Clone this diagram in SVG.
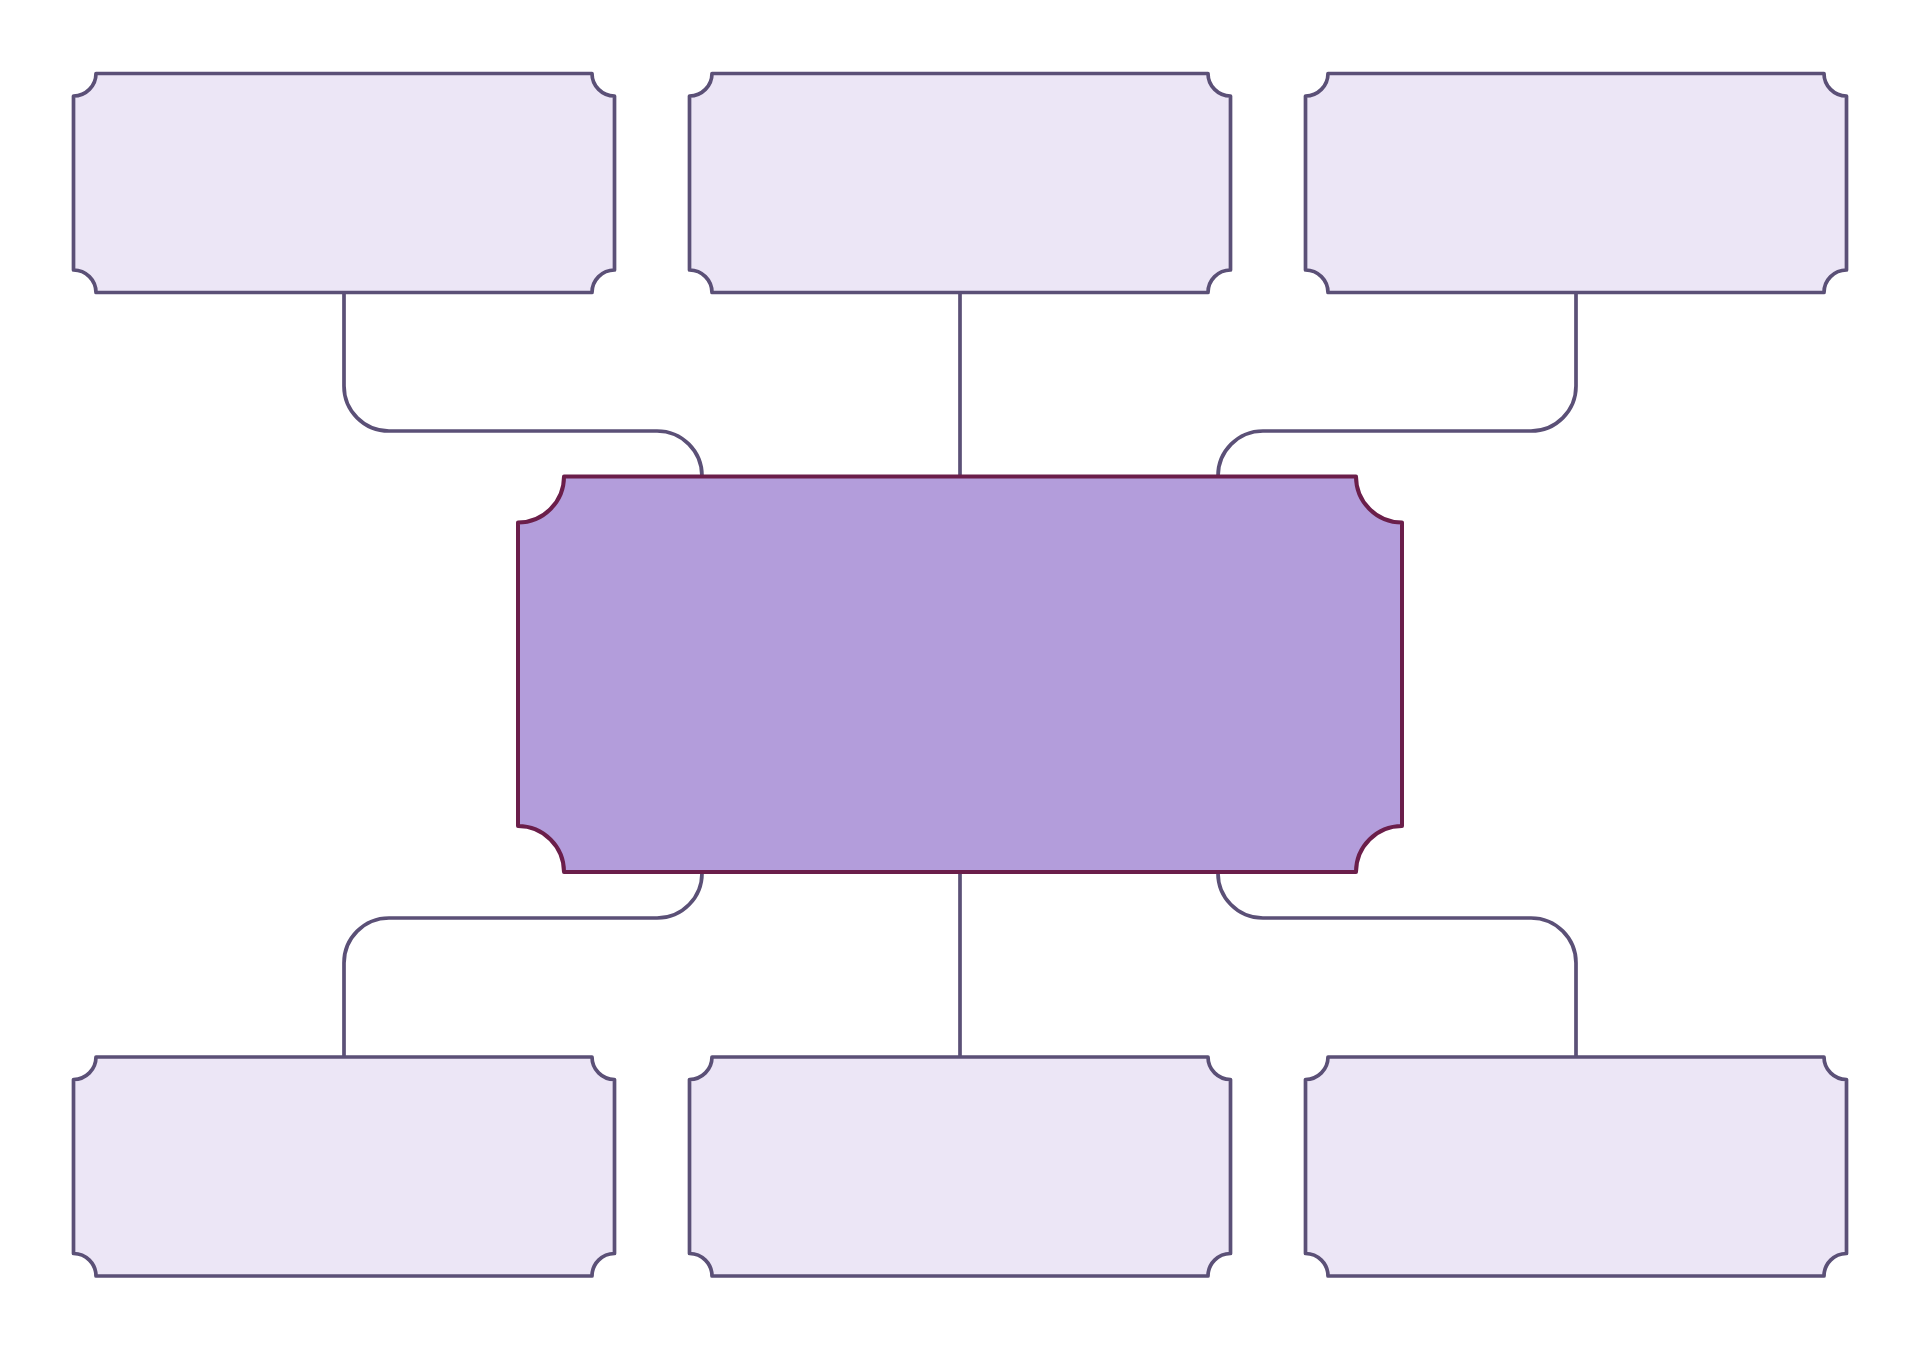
<svg xmlns="http://www.w3.org/2000/svg" width="1920" height="1350" viewBox="0 0 1920 1350">
<style>
.leaf{fill:#ECE6F6;stroke:#5B5077;stroke-width:3.7;stroke-linejoin:round}
.hub{fill:#B39DDB;stroke:#6B1E4A;stroke-width:4;stroke-linejoin:round}
.edge{fill:none;stroke:#5B5077;stroke-width:3.7}
</style>
<rect width="1920" height="1350" fill="#FFFFFF"/>
<g id="connectors">
<path class="edge" d="M344,292.5 V386 A45,45 0 0 0 389,431 H657 A45,45 0 0 1 702,476"/>
<path class="edge" d="M960,292.5 V476.5"/>
<path class="edge" d="M1576,292.5 V386 A45,45 0 0 1 1531,431 H1263 A45,45 0 0 0 1218,476"/>
<path class="edge" d="M702,872 A45,45 0 0 1 657,918 H389 A45,45 0 0 0 344,963 V1057"/>
<path class="edge" d="M960,872 V1057"/>
<path class="edge" d="M1218,872 A45,45 0 0 0 1263,918 H1531 A45,45 0 0 1 1576,963 V1057"/>
</g>
<g id="node-center">
<path class="hub" d="M564,476.5 H1356 A46,46 0 0 0 1402,522.5 V826 A46,46 0 0 0 1356,872 H564 A46,46 0 0 0 518,826 V522.5 A46,46 0 0 0 564,476.5 Z"/>
</g>
<g id="node-top-left">
<path class="leaf" d="M96,73.5 H592 A22.5,22.5 0 0 0 614.5,96 V270 A22.5,22.5 0 0 0 592,292.5 H96 A22.5,22.5 0 0 0 73.5,270 V96 A22.5,22.5 0 0 0 96,73.5 Z"/>
</g>
<g id="node-top-middle">
<path class="leaf" d="M712,73.5 H1208 A22.5,22.5 0 0 0 1230.5,96 V270 A22.5,22.5 0 0 0 1208,292.5 H712 A22.5,22.5 0 0 0 689.5,270 V96 A22.5,22.5 0 0 0 712,73.5 Z"/>
</g>
<g id="node-top-right">
<path class="leaf" d="M1328,73.5 H1824 A22.5,22.5 0 0 0 1846.5,96 V270 A22.5,22.5 0 0 0 1824,292.5 H1328 A22.5,22.5 0 0 0 1305.5,270 V96 A22.5,22.5 0 0 0 1328,73.5 Z"/>
</g>
<g id="node-bottom-left">
<path class="leaf" d="M96,1057 H592 A22.5,22.5 0 0 0 614.5,1079.5 V1253.5 A22.5,22.5 0 0 0 592,1276 H96 A22.5,22.5 0 0 0 73.5,1253.5 V1079.5 A22.5,22.5 0 0 0 96,1057 Z"/>
</g>
<g id="node-bottom-middle">
<path class="leaf" d="M712,1057 H1208 A22.5,22.5 0 0 0 1230.5,1079.5 V1253.5 A22.5,22.5 0 0 0 1208,1276 H712 A22.5,22.5 0 0 0 689.5,1253.5 V1079.5 A22.5,22.5 0 0 0 712,1057 Z"/>
</g>
<g id="node-bottom-right">
<path class="leaf" d="M1328,1057 H1824 A22.5,22.5 0 0 0 1846.5,1079.5 V1253.5 A22.5,22.5 0 0 0 1824,1276 H1328 A22.5,22.5 0 0 0 1305.5,1253.5 V1079.5 A22.5,22.5 0 0 0 1328,1057 Z"/>
</g>
</svg>
